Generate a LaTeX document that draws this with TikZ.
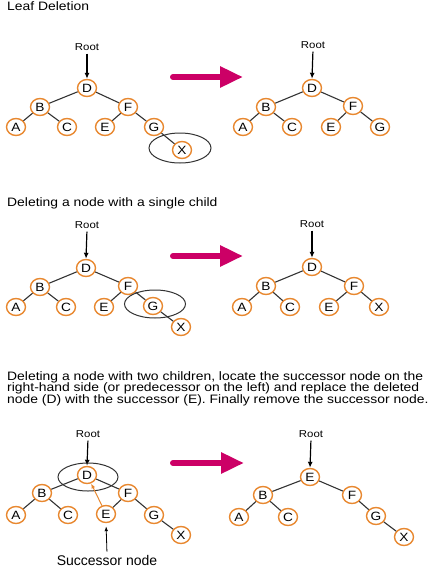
\documentclass[tikz,border=0pt]{standalone}
\usepackage{fontspec}
\setmainfont{Liberation Sans}[FakeStretch=1.14]
\newfontfamily\plainfont{Liberation Sans}
\usetikzlibrary{shapes.geometric,arrows.meta}
\definecolor{nodeorange}{RGB}{232,136,48}
\definecolor{arrowmag}{RGB}{204,0,102}
\definecolor{edgegray}{RGB}{51,51,51}
\begin{document}
\begin{tikzpicture}[x=1pt,y=-1pt,
  tn/.style={ellipse,draw=nodeorange,line width=1.4pt,fill=white,minimum width=19pt,minimum height=17pt,inner sep=0pt,font=\fontsize{12}{12}\selectfont},
  lk/.style={draw=edgegray,line width=1.1pt},
  rootlbl/.style={font=\fontsize{10}{10}\selectfont,inner sep=1pt},
  rootarr/.style={draw=black,line width=1.2pt,-{Latex[length=6pt,width=5pt]},shorten <=2pt},
  bigarr/.style={draw=arrowmag,line width=6pt,line cap=round,-{Triangle[length=23pt,width=20pt]}},
  heading/.style={anchor=base west,inner sep=0pt,font=\fontsize{12.2}{12}\selectfont},
  ring/.style={draw=edgegray,line width=1pt}]
\useasboundingbox (0,0) rectangle (429,568);

% ---------------- Leaf deletion ----------------
\node[heading] (h1) at (7,10) {Leaf Deletion};

\node[rootlbl] (r1) at (87,47) {Root};
\node[tn] (d1) at (87,88) {D};
\node[tn] (b1) at (40,107) {B};
\node[tn] (f1) at (128,107) {F};
\node[tn] (a1) at (16,127) {A};
\node[tn] (c1) at (67,127) {C};
\node[tn] (e1) at (105,127) {E};
\node[tn] (g1) at (154,127) {G};
\node[tn] (x1) at (182,150) {X};
\draw[lk] (d1) -- (b1); \draw[lk] (d1) -- (f1);
\draw[lk] (b1) -- (a1); \draw[lk] (b1) -- (c1);
\draw[lk] (f1) -- (e1); \draw[lk] (f1) -- (g1);
\draw[lk] (g1) -- (x1);
\draw[rootarr] (r1.south) -- (d1.north);
\draw[ring] (180,148) ellipse [x radius=31, y radius=15];

\coordinate (m1s) at (173,77);
\coordinate (m1e) at (243,77);
\draw[bigarr] (m1s) -- (m1e);

\node[rootlbl] (r2) at (313,45) {Root};
\node[tn] (d2) at (312,88) {D};
\node[tn] (b2) at (266,107) {B};
\node[tn] (f2) at (353,106) {F};
\node[tn] (a2) at (243,127) {A};
\node[tn] (c2) at (292,127) {C};
\node[tn] (e2) at (331,127) {E};
\node[tn] (g2) at (380,127) {G};
\draw[lk] (d2) -- (b2); \draw[lk] (d2) -- (f2);
\draw[lk] (b2) -- (a2); \draw[lk] (b2) -- (c2);
\draw[lk] (f2) -- (e2); \draw[lk] (f2) -- (g2);
\draw[rootarr] (r2.south) -- (d2.north);

% ---------------- Single child ----------------
\node[heading] (h2) at (7,206) {Deleting a node with a single child};

\node[rootlbl] (r3) at (87,225) {Root};
\node[tn] (d3) at (86,268) {D};
\node[tn] (b3) at (40,287) {B};
\node[tn] (f3) at (128,286) {F};
\node[tn] (a3) at (16,307) {A};
\node[tn] (c3) at (66,307) {C};
\node[tn] (e3) at (104,307) {E};
\node[tn] (g3) at (153,306) {G};
\node[tn] (x3) at (181,327) {X};
\draw[lk] (d3) -- (b3); \draw[lk] (d3) -- (f3);
\draw[lk] (b3) -- (a3); \draw[lk] (b3) -- (c3);
\draw[lk] (f3) -- (e3); \draw[lk] (f3) -- (g3);
\draw[lk] (g3) -- (x3);
\draw[rootarr] (r3.south) -- (d3.north);
\draw[ring] (155,304) ellipse [x radius=30.5, y radius=14];

\coordinate (m2s) at (173,256);
\coordinate (m2e) at (243,256);
\draw[bigarr] (m2s) -- (m2e);

\node[rootlbl] (r4) at (312,224) {Root};
\node[tn] (d4) at (312,267) {D};
\node[tn] (b4) at (266,286) {B};
\node[tn] (f4) at (354,286) {F};
\node[tn] (a4) at (242,307) {A};
\node[tn] (c4) at (290,307) {C};
\node[tn] (e4) at (329,307) {E};
\node[tn] (x4) at (379,307) {X};
\draw[lk] (d4) -- (b4); \draw[lk] (d4) -- (f4);
\draw[lk] (b4) -- (a4); \draw[lk] (b4) -- (c4);
\draw[lk] (f4) -- (e4); \draw[lk] (f4) -- (x4);
\draw[rootarr] (r4.south) -- (d4.north);

% ---------------- Two children ----------------
\node[heading] (p1) at (7,380) {Deleting a node with two children, locate the successor node on the};
\node[heading] (p2) at (7,391.5) {right-hand side (or predecessor on the left) and replace the deleted};
\node[heading] (p3) at (7,403) {node (D) with the successor (E). Finally remove the successor node.};

\node[rootlbl] (r5) at (88,434) {Root};
\node[tn] (d5) at (87,475) {D};
\node[tn] (b5) at (42,493) {B};
\node[tn] (f5) at (128,493) {F};
\node[tn] (a5) at (16,515) {A};
\node[tn] (c5) at (68,515) {C};
\node[tn] (e5) at (106,514) {E};
\node[tn] (g5) at (154,515) {G};
\node[tn] (x5) at (181,535) {X};
\node[inner sep=1pt,font=\plainfont\fontsize{14}{14}\selectfont] (sn) at (107,560) {Successor node};
\draw[lk] (d5) -- (b5); \draw[lk] (d5) -- (f5);
\draw[lk] (b5) -- (a5); \draw[lk] (b5) -- (c5);
\draw[lk] (f5) -- (e5); \draw[lk] (f5) -- (g5);
\draw[lk] (g5) -- (x5);
\draw[rootarr] (r5.south) -- (d5.north);
\draw[ring] (88,477) ellipse [x radius=30, y radius=14];
\draw[draw=nodeorange,line width=1pt,-{Latex[length=5pt,width=4pt]}] (e5) -- (d5);
\draw[draw=black,line width=0.8pt,-{Latex[length=5pt,width=3.5pt]},shorten <=2pt,shorten >=3pt] (sn.north) -- (e5.south);

\coordinate (m3s) at (173,463);
\coordinate (m3e) at (244,463);
\draw[bigarr] (m3s) -- (m3e);

\node[rootlbl] (r6) at (311,434) {Root};
\node[tn] (e6) at (310,477) {E};
\node[tn] (b6) at (263,495) {B};
\node[tn] (f6) at (352,495) {F};
\node[tn] (a6) at (239,517) {A};
\node[tn] (c6) at (288,517) {C};
\node[tn] (g6) at (376,516) {G};
\node[tn] (x6) at (404,537) {X};
\draw[lk] (e6) -- (b6); \draw[lk] (e6) -- (f6);
\draw[lk] (b6) -- (a6); \draw[lk] (b6) -- (c6);
\draw[lk] (f6) -- (g6); \draw[lk] (g6) -- (x6);
\draw[rootarr] (r6.south) -- (e6.north);
\end{tikzpicture}
\end{document}
